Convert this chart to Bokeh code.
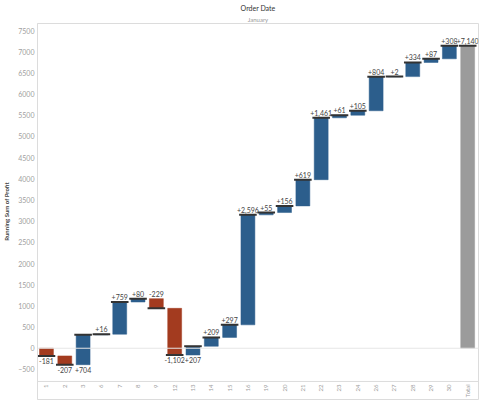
import numpy as np
from bokeh.plotting import figure
from bokeh.models import (Range1d, ColumnDataSource, Span, Title, FixedTicker)
from bokeh.core.properties import value
from bokeh.embed import file_html
from bokeh.resources import INLINE

# ---- data ----
days = ["1", "2", "3", "6", "7", "8", "9", "12", "13", "14", "15", "16",
        "19", "20", "21", "22", "23", "24", "26", "27", "28", "29", "30"]
profit = [-181, -207, 704, 16, 759, 80, -229, -1102, 207, 209, 297, 2596,
          55, 156, 619, 1461, 61, 105, 804, 2, 334, 87, 308]
total_label = "Total"
total_value = 7140
y_ticks = list(range(-500, 8000, 500))

FONT = "Lato"
BLUE = "#2c5e8c"
RED = "#a33b1f"
GRAY = "#9b9b9b"

# layout: data area bottom (separator above the category labels)
Y_AXIS_FLOOR = -784
Y_MIN, Y_MAX = -1210, 7666

labels = days + [total_label]
n = len(labels)
xs = np.arange(n)
prof = np.array(profit, dtype=float)
ends = np.cumsum(prof)
starts = ends - prof

bottoms = list(np.minimum(starts, ends)) + [0.0]
tops = list(np.maximum(starts, ends)) + [float(total_value)]
end_vals = list(ends) + [float(total_value)]
colors = [BLUE if v >= 0 else RED for v in profit] + [GRAY]
texts = ["{:+,}".format(v) for v in profit] + ["+{:,}".format(total_value)]

p = figure(width=480, height=400, output_backend="svg", toolbar_location=None,
           x_range=Range1d(-0.49, 23.59), y_range=Range1d(Y_MIN, Y_MAX),
           min_border_left=33, min_border_right=2, min_border_top=23,
           min_border_bottom=1, title=None)
p.background_fill_color = "white"
p.border_fill_color = "white"
p.outline_line_color = "#dcdcdc"
p.xgrid.visible = False
p.ygrid.visible = False
p.xaxis.visible = False

p.add_layout(Span(location=0, dimension="width", line_color="#e6e6e6",
                  line_width=1))
p.add_layout(Span(location=Y_AXIS_FLOOR, dimension="width",
                  line_color="#dcdcdc", line_width=1))

src = ColumnDataSource(dict(x=xs, top=tops, bottom=bottoms, color=colors,
                            end=end_vals, x0=xs - 0.48, x1=xs + 0.48))
p.vbar(x="x", top="top", bottom="bottom", width=0.76, fill_color="color",
       line_color="color", line_width=0.5, source=src)
p.segment(x0="x0", x1="x1", y0="end", y1="end", line_color="#333333",
          line_width=2, source=src)

above = dict(x=[], y=[], t=[])
below = dict(x=[], y=[], t=[])
for i in range(n):
    if bottoms[i] < 0:
        below["x"].append(xs[i]); below["y"].append(bottoms[i]); below["t"].append(texts[i])
    else:
        above["x"].append(xs[i]); above["y"].append(tops[i]); above["t"].append(texts[i])

p.text(x="x", y="y", text="t", source=ColumnDataSource(above),
       text_align="center", text_baseline="bottom", y_offset=-2,
       text_font=value(FONT), text_font_size="7px", text_color="#444444")
p.text(x="x", y="y", text="t", source=ColumnDataSource(below),
       text_align="center", text_baseline="top", y_offset=2,
       text_font=value(FONT), text_font_size="7px", text_color="#444444")

# category labels (rotated), placed just under the data area
cat_src = ColumnDataSource(dict(x=xs, y=[Y_AXIS_FLOOR] * n, t=labels))
p.text(x="x", y="y", text="t", source=cat_src, angle=np.pi / 2,
       text_align="right", text_baseline="middle", y_offset=3,
       text_font=value(FONT), text_font_size="6px", text_color="#a0a0a0")

# y axis
ya = p.yaxis[0]
ya.ticker = FixedTicker(ticks=y_ticks)
ya.axis_label = "Running Sum of Profit"
ya.axis_label_text_font = FONT
ya.axis_label_text_font_size = "6px"
ya.axis_label_text_font_style = "bold"
ya.axis_label_text_color = "#444444"
ya.axis_label_standoff = 5
ya.major_label_text_font = FONT
ya.major_label_text_font_size = "7px"
ya.major_label_text_color = "#a0a0a0"
ya.major_label_standoff = 3
ya.major_tick_line_color = None
ya.major_tick_out = 0
ya.major_tick_in = 0
ya.minor_tick_line_color = None
ya.minor_tick_out = 0
ya.axis_line_color = "#dcdcdc"

p.add_layout(Title(text="January", align="center", text_font=FONT,
                   text_font_size="6px", text_font_style="normal",
                   text_color="#999999", standoff=2, offset=0), "above")
p.add_layout(Title(text="Order Date", align="center", text_font=FONT,
                   text_font_size="7px", text_font_style="normal",
                   text_color="#333333", standoff=2, offset=0), "above")

open("out.html", "w").write(file_html(p, INLINE))
